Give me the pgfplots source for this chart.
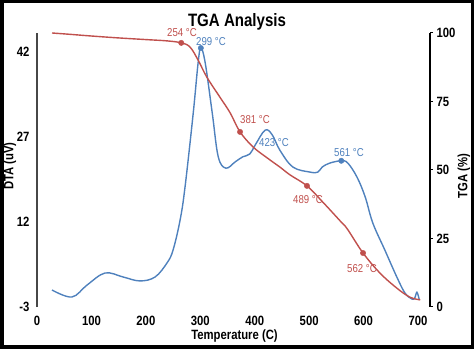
\documentclass[border=0pt]{standalone}
\usepackage{pgfplots}
\pgfplotsset{compat=1.18}
\usepackage{fontspec}
\setmainfont{Liberation Sans}[FakeStretch=0.84]
\definecolor{tgared}{HTML}{C0504D}
\definecolor{dtablue}{HTML}{4F81BD}
\begin{document}
\begin{tikzpicture}
\useasboundingbox (0,0) rectangle (474bp,349bp);
\begin{axis}[
  at={(37bp,42bp)}, anchor=south west, scale only axis,
  width=393bp, height=274bp,
  xmin=0, xmax=722, ymin=-3, ymax=45.35,
  axis x line*=bottom, axis y line*=left,
  axis line style={-},
  x axis line style={draw=none},
  y axis line style={draw=black!72, line width=1.4bp},
  xtick={0,100,200,300,400,500,600,700},
  xticklabels={0,100,200,300,400,500,600,700},
  ytick={-3,12,27,42},
  yticklabels={-3,12,27,42},
  major tick length=0pt,
  tick style={draw=none},
  tick label style={font=\bfseries\fontsize{13.5}{15}\selectfont},
  xticklabel style={yshift=-6bp},
  yticklabel style={xshift=-4bp},
  clip=false,
]
\addplot[dtablue, line width=1.4bp, smooth, tension=0.6] coordinates {
(27.6,0.0) (64,-1.24) (92,0.88) (125,3.0) (158,2.3) (189,1.6) (217,2.3)
(239,4.8) (250,7.06) (263,12.4) (272,18.2) (287,31.2) (296,40.1) (301,42.7)
(309,40.1) (322,31.2) (333,23.5) (347,21.5) (364,22.6) (378,23.5) (391,24.0)
(401,25.6) (419,28.2) (432,27.4) (446,24.7) (470,21.7) (502,20.8) (516,20.8)
(524,21.7) (538,22.4) (559,22.8) (571,22.4) (588,19.9) (603,16.4) (617,11.8)
(639,7.06) (661,2.3) (676,-0.53) (689,-1.6) (694,-1.4) (698,-0.4) (702,-1.6)
};
\addplot[only marks, mark=*, mark size=2.7bp, dtablue] coordinates {
(301,42.7) (559,22.8)
};
\end{axis}
\begin{axis}[
  at={(37bp,42bp)}, anchor=south west, scale only axis,
  width=393bp, height=274bp,
  xmin=0, xmax=722, ymin=0, ymax=100,
  axis x line=none, axis y line*=right,
  axis line style={-},
  y axis line style={draw=black, line width=1.4bp},
  ytick={0,25,50,75,100},
  yticklabels={0,25,50,75,100},
  tick align=outside,
  major tick length=3bp,
  ytick style={draw=black, line width=1bp},
  tick label style={font=\bfseries\fontsize{13.5}{15}\selectfont},
  yticklabel style={xshift=0bp},
  clip=false,
]
\addplot[tgared, line width=1.4bp, smooth, tension=0.6] coordinates {
(27.6,100) (55,99.6) (100,98.9) (150,98.2) (200,97.6) (240,97.1) (265,96.4)
(281,94.9) (296,90.1) (312,83.9) (336,76.6) (355,70.8) (373,63.9) (397,58.4)
(423,54.4) (446,51.1) (465,48.2) (496,44.2) (525,38.3) (557,31.4) (570,28.5)
(599,19.7) (630,12.4) (661,6.9) (685,3.6) (704,2.6)
};
\addplot[only marks, mark=*, mark size=2.7bp, tgared] coordinates {
(265,96.4) (373,63.9) (496,44.2) (599,19.7)
};
\end{axis}
% annotations
\begin{scope}[every node/.style={font=\fontsize{11.5}{13}\selectfont, inner sep=0pt}]
\node[text=tgared] at (182bp,316bp) {254 °C};
\node[text=dtablue] at (211bp,307bp) {299 °C};
\node[text=tgared] at (255bp,229bp) {381 °C};
\node[text=dtablue] at (274bp,206bp) {423 °C};
\node[text=dtablue] at (349bp,196bp) {561 °C};
\node[text=tgared] at (308bp,149bp) {489 °C};
\node[text=tgared] at (362bp,80bp) {562 °C};
\end{scope}
% titles
\node[font=\bfseries\fontsize{18}{21}\selectfont, inner sep=0pt] at (237bp,327.5bp) {TGA Analysis};
\node[font=\bfseries\fontsize{13.5}{15}\selectfont, inner sep=0pt] at (234.5bp,13bp) {Temperature (C)};
\node[font=\bfseries\fontsize{13.5}{15}\selectfont, inner sep=0pt, rotate=90] at (10bp,183bp) {DTA (uV)};
\node[font=\bfseries\fontsize{13.5}{15}\selectfont, inner sep=0pt, rotate=90] at (464bp,173bp) {TGA (\%)};
% frame
\draw[line width=3.5bp] (1.75bp,1.75bp) rectangle (472.25bp,347.25bp);
\end{tikzpicture}
\end{document}
